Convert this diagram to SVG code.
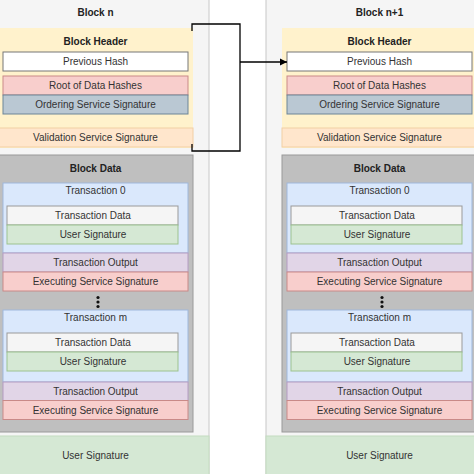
<svg xmlns="http://www.w3.org/2000/svg" width="474" height="474" viewBox="0 0 474 474">
<defs>
<style>
text{font-family:"Liberation Sans",Arial,sans-serif;font-size:10px;fill:#333;text-anchor:middle}
.b{font-weight:bold;fill:#222}
.outer{fill:#f5f5f5;stroke:#c8c8c8}
.hdr{fill:#fff2cc;stroke:none}
.white{fill:#fff;stroke:#777}
.pink{fill:#f8cecc;stroke:#c98a88}
.slate{fill:#bac8d3;stroke:#6d8597}
.orange{fill:#ffe6cc;stroke:#f2cfa4}
.gray{fill:#bfbfbf;stroke:#9a9a9a}
.blue{fill:#dae8fc;stroke:#9fb8dc}
.light{fill:#f5f5f5;stroke:#999}
.green{fill:#d5e8d4;stroke:#9cc28f}
.purple{fill:#e1d5e7;stroke:#b49cc2}
.biggreen{fill:#d5e8d4;stroke:#c4dcc0}
</style>
<marker id="arr" markerWidth="8" markerHeight="8" refX="7" refY="4" orient="auto" markerUnits="userSpaceOnUse">
<path d="M0,0.5 L7,4 L0,7.5 Z" fill="#000"/>
</marker>
<g id="blockTpl">
<rect class="outer" x="-18" y="-1" width="227" height="476"/>
<rect class="hdr" x="-2" y="28" width="195" height="120"/>
<rect class="white" x="3" y="52" width="185" height="19"/>
<rect class="pink" x="3" y="76" width="185" height="19"/>
<rect class="slate" x="3" y="95" width="185" height="19"/>
<rect class="orange" x="-2" y="128" width="195" height="19"/>
<rect class="gray" x="-2" y="155" width="195" height="277"/>
<rect class="blue" x="3" y="183" width="185" height="70"/>
<rect class="light" x="7" y="206" width="171" height="19"/>
<rect class="green" x="7" y="225" width="171" height="19"/>
<rect class="purple" x="3" y="253" width="185" height="19"/>
<rect class="pink" x="3" y="272" width="185" height="19"/>
<circle cx="98" cy="297.5" r="1.6" fill="#111"/>
<circle cx="98" cy="302" r="1.6" fill="#111"/>
<circle cx="98" cy="306.5" r="1.6" fill="#111"/>
<rect class="blue" x="3" y="310" width="185" height="72"/>
<rect class="light" x="7" y="333" width="171" height="19"/>
<rect class="green" x="7" y="352" width="171" height="19"/>
<rect class="purple" x="3" y="382" width="185" height="18.5"/>
<rect class="pink" x="3" y="400.5" width="185" height="19"/>
<rect class="biggreen" x="-18" y="436" width="227" height="40"/>
<text x="95.5" y="44.5" class="b">Block Header</text>
<text x="95.5" y="65">Previous Hash</text>
<text x="95.5" y="89">Root of Data Hashes</text>
<text x="95.5" y="108">Ordering Service Signature</text>
<text x="95.5" y="141">Validation Service Signature</text>
<text x="95.5" y="172" class="b">Block Data</text>
<text x="95.5" y="194">Transaction 0</text>
<text x="93" y="219">Transaction Data</text>
<text x="93" y="238">User Signature</text>
<text x="95.5" y="266">Transaction Output</text>
<text x="95.5" y="285">Executing Service Signature</text>
<text x="95.5" y="321">Transaction m</text>
<text x="93" y="346">Transaction Data</text>
<text x="93" y="365">User Signature</text>
<text x="95.5" y="395">Transaction Output</text>
<text x="95.5" y="414">Executing Service Signature</text>
<text x="95.5" y="459">User Signature</text>
</g>
</defs>
<g id="block-n">
<use href="#blockTpl"/>
<text x="95.5" y="16" class="b">Block n</text>
</g>
<g id="block-n1" transform="translate(284,0)">
<use href="#blockTpl"/>
<text x="95.5" y="16" class="b">Block n+1</text>
</g>
<g id="connectors" fill="none" stroke="#000" stroke-width="1.3">
<path d="M192,31 V24 H240 V151 H192 V144"/>
<path d="M240,62 H287" marker-end="url(#arr)"/>
</g>
</svg>
